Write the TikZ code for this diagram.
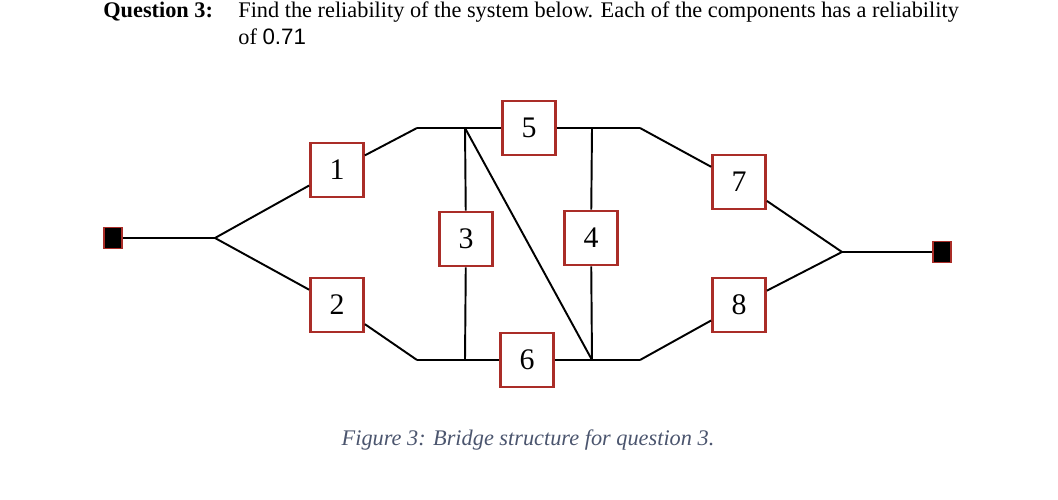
\documentclass[tikz,border=0pt]{standalone}
\usepackage{fontspec}
\setmainfont{Liberation Serif}
\newfontfamily\sansf{Liberation Sans}
\definecolor{boxred}{RGB}{170,45,40}
\definecolor{capc}{RGB}{75,85,110}
\begin{document}
\begin{tikzpicture}[x=0.02cm,y=-0.02cm,
  comp/.style={draw=boxred,line width=1.6pt,fill=white,minimum width=53*0.02cm,minimum height=54*0.02cm,inner sep=0pt,font=\fontsize{17}{17}\selectfont},
  term/.style={draw=boxred,line width=1pt,fill=black,minimum width=18*0.02cm,minimum height=21*0.02cm,inner sep=0pt},
  wire/.style={line width=1.1pt}]
\useasboundingbox (0,0) rectangle (1058,500);
\node[anchor=base west,inner sep=0pt,font=\fontsize{12.7}{14}\selectfont\bfseries] (q) at (103,18) {Question 3:};
\node[anchor=base west,inner sep=0pt,font=\fontsize{12.7}{14}\selectfont] (t1) at (238,18) {Find the reliability of the system below. Each of the components has a reliability};
\node[anchor=base west,inner sep=0pt,font=\fontsize{12.7}{14}\selectfont] (t2) at (238,45) {of {\sansf 0.71}};
\node[font=\fontsize{12.7}{14}\selectfont\itshape,text=capc] (cap) at (528,440) {Figure 3: Bridge structure for question 3.};
% junction coordinates
\coordinate (fork) at (215,238);
\coordinate (tl) at (417,128);
\coordinate (bl) at (417,360);
\coordinate (ta) at (465,128);
\coordinate (ba) at (465,360);
\coordinate (tb) at (592,128);
\coordinate (bb) at (592,360);
\coordinate (tr) at (640,128);
\coordinate (br) at (640,360);
\coordinate (join) at (842,252);
% nodes
\node[term] (in) at (113,238) {};
\node[term] (out) at (942,252) {};
\node[comp] (b1) at (337,170) {1};
\node[comp] (b2) at (337,305) {2};
\node[comp] (b3) at (466,239) {3};
\node[comp] (b4) at (591,238) {4};
\node[comp] (b5) at (529,128) {5};
\node[comp] (b6) at (527,360) {6};
\node[comp] (b7) at (739,182) {7};
\node[comp] (b8) at (739,305) {8};
% wires
\draw[wire] (in) -- (fork);
\draw[wire] (fork) -- (b1); \draw[wire] (b1) -- (tl);
\draw[wire] (fork) -- (b2); \draw[wire] (b2) -- (bl);
\draw[wire] (tl) -- (b5); \draw[wire] (b5) -- (tr);
\draw[wire] (bl) -- (b6); \draw[wire] (b6) -- (br);
\draw[wire] (ta) -- (b3); \draw[wire] (b3) -- (ba);
\draw[wire] (tb) -- (b4); \draw[wire] (b4) -- (bb);
\draw[wire] (ta) -- (bb);
\draw[wire] (tr) -- (b7); \draw[wire] (b7) -- (join);
\draw[wire] (br) -- (b8); \draw[wire] (b8) -- (join);
\draw[wire] (join) -- (out);
\end{tikzpicture}
\end{document}
